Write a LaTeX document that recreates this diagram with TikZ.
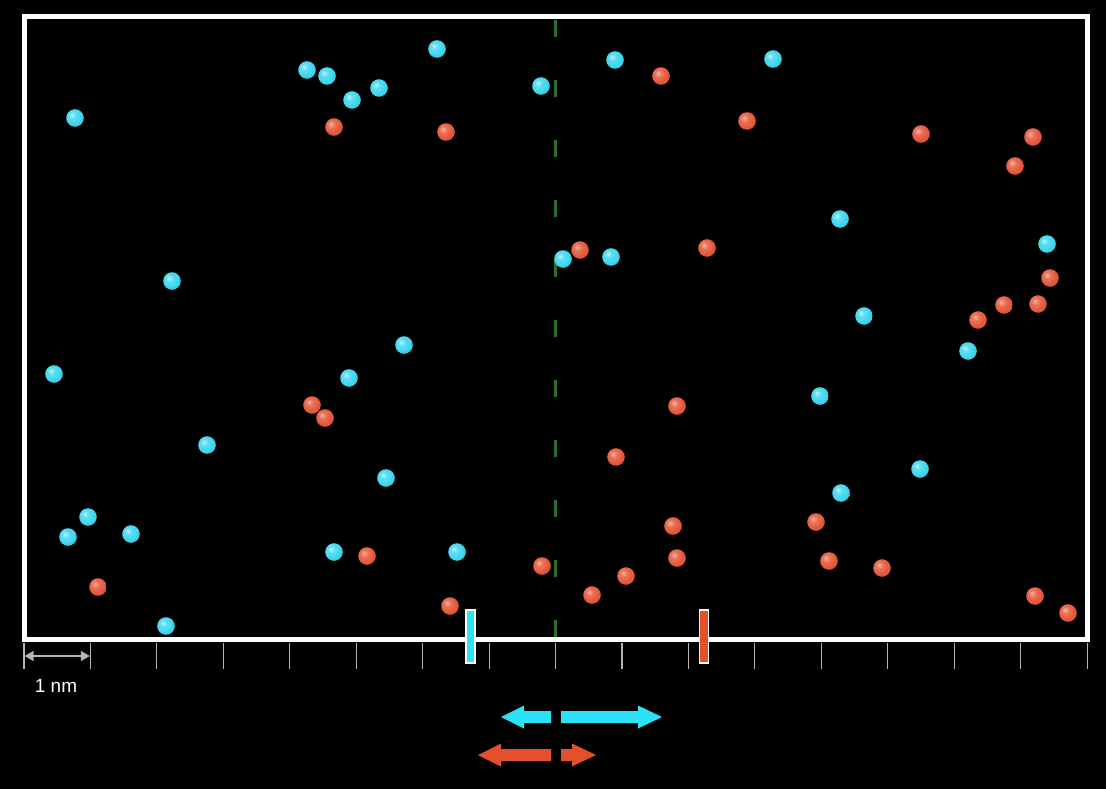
\documentclass[tikz,border=0pt]{standalone}
\usepackage{fontspec}
\setmainfont{Liberation Sans}
\usetikzlibrary{arrows.meta, calc}

% ---------------------------------------------------------------- particle shading
\definecolor{cyanball}{HTML}{3FD8F0}   % the cyan species
\definecolor{redball}{HTML}{E65A3C}    % the red species
\pgfdeclareradialshading{cyanshade}{\pgfpoint{-9bp}{9bp}}{%
    color(0bp)=(cyanball!35!white); color(10bp)=(cyanball!85!white);
    color(22bp)=(cyanball); color(40bp)=(cyanball!85!black);
    color(52bp)=(cyanball!65!black); color(70bp)=(cyanball!55!black)}
\pgfdeclareradialshading{redshade}{\pgfpoint{-9bp}{9bp}}{%
    color(0bp)=(redball!45!white); color(10bp)=(redball!85!white);
    color(22bp)=(redball); color(40bp)=(redball!85!black);
    color(52bp)=(redball!68!black); color(70bp)=(redball!58!black)}

\begin{document}
\begin{tikzpicture}[
    x=1pt, y=-1pt,
    every node/.style={font=\rmfamily},
    cyanion/.style={shading=cyanshade},
    redion/.style={shading=redshade},
    tick/.style={draw=tickgray, line width=1.1pt},
    marker/.style={draw=white, line width=1.8pt},
]

% ---------------------------------------------------------------- colours
\definecolor{cyanflux}{HTML}{2BE2F7}
\definecolor{redflux}{HTML}{E4502C}
\definecolor{midline}{HTML}{2C6E2C}
\definecolor{tickgray}{HTML}{B4B4B4}

% ================================================================
% pixel grid, y pointing down
%   box        x = 24 .. 1087.5,  y = 16.5 .. 639
%   ruler      16 steps of 66.44 below the box
%   flux rows  y = 717 (cyan), 755 (red)
% ================================================================

\def\rad{8.8}
\def\stp{66.44}

\fill[black] (0,0) rectangle (1106,789);
\useasboundingbox (0,0) rectangle (1106,789);

% middle of the box
\draw[midline, line width=2.6pt, dash pattern=on 17pt off 43pt]
    (555.5,20) -- (555.5,637);

% particles
\foreach \x/\y in {75/118, 307/70, 327/76, 352/100, 379/88, 437/49,
    541/86, 615/60, 773/59, 840/219, 1047/244, 563/259, 611/257,
    172/281, 864/316, 968/351, 404/345, 54/374, 349/378, 820/396,
    207/445, 386/478, 920/469, 841/493, 88/517, 68/537, 131/534,
    334/552, 457/552, 166/626} {
    \shade[cyanion] (\x,\y) circle (\rad);
}
\foreach \x/\y in {661/76, 334/127, 446/132, 747/121, 921/134, 1033/137,
    1015/166, 580/250, 707/248, 1050/278, 1004/305, 1038/304, 978/320,
    312/405, 325/418, 677/406, 616/457, 673/526, 816/522, 677/558,
    829/561, 882/568, 367/556, 542/566, 626/576, 592/595, 98/587,
    450/606, 1035/596, 1068/613} {
    \shade[redion] (\x,\y) circle (\rad);
}

% the box
\draw[white, line width=5pt] (24,16.5) rectangle (1087.5,639);

% ruler
\foreach \i in {0,...,16} {
    \coordinate (t\i) at (24+\i*\stp, 643);
    \draw[tick] (t\i) -- ++(0,26);
}
\coordinate (s0) at ($(t0)+(0.6,13)$);
\coordinate (s1) at ($(t1)+(-0.6,13)$);
\draw[tickgray, line width=1.3pt, {Triangle[length=9pt, width=10pt]}-{Triangle[length=9pt, width=10pt]}]
    (s0) -- (s1);
\node[text=white, font=\fontsize{19}{21}\selectfont] (scale) at (56,686) {1 nm};

% mean positions
\filldraw[marker, fill=cyanflux] (466,610) rectangle (475,663);
\filldraw[marker, fill=redflux] (699.5,610) rectangle (708.5,663);

% fluxes
\fill[cyanflux] (501,717) -- (524,705.5) -- (524,711) -- (551,711)
    -- (551,723) -- (524,723) -- (524,728.5) -- cycle;
\fill[cyanflux] (662,717) -- (638,705.5) -- (638,711) -- (561,711)
    -- (561,723) -- (638,723) -- (638,728.5) -- cycle;
\fill[redflux] (478,755) -- (501,743.5) -- (501,749) -- (551,749)
    -- (551,761) -- (501,761) -- (501,766.5) -- cycle;
\fill[redflux] (596,755) -- (572,743.5) -- (572,749) -- (561,749)
    -- (561,761) -- (572,761) -- (572,766.5) -- cycle;

\end{tikzpicture}
\end{document}
